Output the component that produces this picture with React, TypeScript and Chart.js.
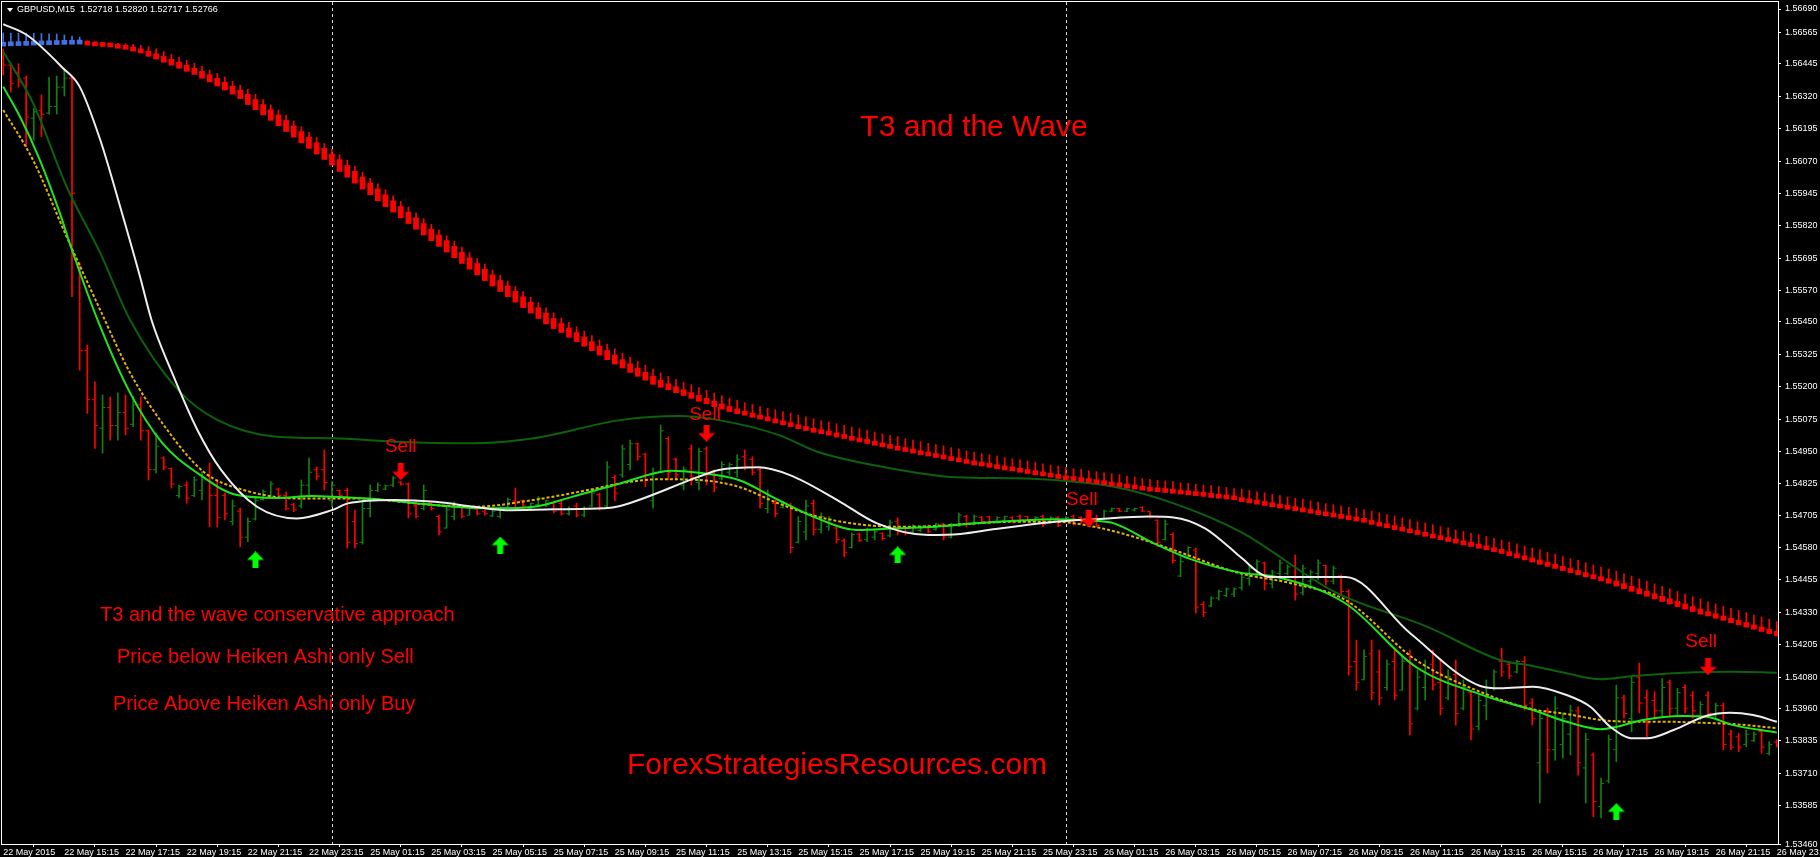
import React, { useEffect, useRef } from "react";
import { Chart, registerables } from "chart.js";

Chart.register(...registerables);

// Prices are stored in pips above BASE (price = BASE + value * PIP)
const BASE = 1.53;
const PIP = 0.0001;
const toPrice = (p: number) => BASE + p * PIP;

// M15 bars: index 0 = 22 May 13:15
const separatorIndex = [43, 139];
const timeTickIndex = [0, 8, 16, 24, 32, 40, 48, 56, 64, 72, 80, 88, 96, 104, 112, 120, 128, 136, 144, 152, 160, 168, 176, 184, 192, 200, 208, 216, 224, 232];
const timeTickLabels = ["22 May 2015", "22 May 15:15", "22 May 17:15", "22 May 19:15", "22 May 21:15", "22 May 23:15", "25 May 01:15", "25 May 03:15", "25 May 05:15", "25 May 07:15", "25 May 09:15", "25 May 11:15", "25 May 13:15", "25 May 15:15", "25 May 17:15", "25 May 19:15", "25 May 21:15", "25 May 23:15", "26 May 01:15", "26 May 03:15", "26 May 05:15", "26 May 07:15", "26 May 09:15", "26 May 11:15", "26 May 13:15", "26 May 15:15", "26 May 17:15", "26 May 19:15", "26 May 21:15", "26 May 23:15"];
const priceTicks = [1.56565, 1.56445, 1.5632, 1.56195, 1.5607, 1.55945, 1.5582, 1.55695, 1.5557, 1.5545, 1.55325, 1.552, 1.55075, 1.5495, 1.54825, 1.54705, 1.5458, 1.54455, 1.5433, 1.54205, 1.5408, 1.5396, 1.53835, 1.5371, 1.53585];
const priceTopLabel = "1.56690";
const priceBottomLabel = "1.53460";
const Y_MIN = 1.534366;
const Y_MAX = 1.566833;
const X_MIN = -0.157;
const X_MAX = 232.15;

const barOpen = [
  347.5, 344.0, 341.0, 339.0, 323.5, 326.4, 325.5, 328.0, 335.5, 339.0,
  266.0, 234.0, 215.0, 204.0, 212.0, 205.0, 210.0, 205.5, 213.0, 203.0,
  188.0, 192.5, 188.5, 178.0, 182.0, 178.0, 180.0, 186.0, 178.0, 178.0,
  168.0, 172.0, 162.0, 169.0, 176.5, 178.0, 180.5, 178.0, 174.5, 174.0,
  182.0, 188.0, 188.0, 176.0, 180.0, 180.0, 168.0, 160.0, 173.0, 180.0,
  180.5, 182.0, 183.2, 182.5, 174.0, 173.0, 175.0, 170.0, 165.5, 170.0,
  173.5, 170.5, 172.8, 172.0, 170.2, 170.0, 173.5, 176.0, 176.0, 173.0,
  174.5, 174.5, 175.0, 175.0, 171.0, 174.0, 170.5, 174.0, 178.5, 174.0,
  185.0, 186.0, 190.0, 198.0, 194.0, 176.0, 187.0, 200.0, 192.0, 182.0,
  196.0, 183.0, 196.0, 187.0, 184.5, 187.0, 187.0, 193.0, 192.0, 188.0,
  173.0, 175.0, 173.5, 174.0, 160.0, 164.0, 175.0, 165.0, 166.0, 165.5,
  160.5, 158.0, 163.2, 161.0, 162.0, 163.5, 162.5, 168.0, 165.5, 164.0,
  164.5, 166.0, 165.0, 167.0, 162.0, 167.0, 170.0, 167.0, 169.6, 169.8,
  168.0, 168.5, 169.5, 170.0, 169.9, 168.2, 170.0, 167.5, 169.5, 168.0,
  170.0, 169.5, 170.0, 169.0, 169.0, 172.0, 173.0, 172.0, 172.5, 173.5,
  171.8, 168.5, 161.0, 163.0, 147.0, 155.0, 157.0, 136.0, 135.5, 138.5,
  139.5, 140.0, 142.5, 146.0, 149.5, 152.0, 144.0, 148.0, 148.0, 151.0,
  140.5, 145.0, 148.0, 151.0, 145.0, 147.0, 141.0, 114.0, 107.0, 117.0,
  110.0, 104.0, 114.0, 103.0, 114.0, 96.0, 104.0, 113.0, 106.0, 100.0,
  109.0, 96.0, 102.0, 89.0, 97.0, 104.0, 114.0, 113.0, 110.0, 114.0,
  98.0, 75.0, 95.0, 80.0, 82.0, 86.0, 95.0, 73.0, 78.0, 58.0,
  68.0, 80.0, 100.0, 92.0, 108.0, 100.0, 99.0, 95.0, 106.0, 96.0,
  104.0, 101.0, 93.0, 101.0, 93.0, 97.0, 86.0, 85.0, 82.0, 83.5,
  87.0, 78.5, 83.0,
];
const barHigh = [
  350.2, 344.8, 344.5, 339.8, 327.3, 332.5, 339.3, 339.8, 342.4, 339.5,
  267.7, 236.1, 221.9, 216.8, 216.1, 217.6, 216.8, 216.1, 216.1, 203.3,
  202.1, 193.0, 188.6, 182.1, 183.4, 185.3, 187.2, 190.6, 184.0, 179.0,
  176.3, 173.2, 169.4, 177.6, 180.2, 183.4, 180.9, 179.5, 175.1, 184.0,
  192.5, 189.1, 195.6, 183.4, 180.2, 180.9, 172.4, 175.6, 182.1, 182.9,
  182.1, 185.3, 183.4, 182.9, 176.3, 182.1, 175.1, 170.5, 173.7, 175.6,
  173.7, 173.7, 173.2, 172.4, 172.4, 173.7, 177.1, 180.9, 176.3, 175.1,
  177.6, 176.3, 175.1, 176.3, 173.7, 175.1, 173.7, 180.2, 179.0, 191.1,
  186.0, 197.5, 199.4, 198.3, 194.4, 188.6, 205.2, 200.7, 192.5, 189.1,
  197.5, 196.3, 196.8, 187.9, 191.1, 190.6, 193.7, 195.6, 193.0, 189.1,
  180.2, 176.3, 175.6, 175.1, 169.9, 176.3, 176.3, 171.3, 169.9, 166.0,
  161.3, 163.6, 163.6, 165.5, 164.7, 163.6, 168.6, 169.4, 166.0, 166.7,
  166.0, 166.7, 167.4, 167.4, 167.4, 171.3, 170.5, 170.5, 169.9, 170.1,
  169.9, 170.1, 169.9, 170.5, 170.1, 169.9, 170.5, 169.9, 169.9, 169.9,
  170.5, 169.9, 170.5, 170.5, 172.4, 173.2, 173.1, 173.2, 173.2, 173.7,
  171.8, 168.6, 168.6, 163.6, 154.4, 158.3, 157.8, 137.1, 139.0, 141.6,
  142.4, 142.4, 147.4, 151.2, 153.2, 152.4, 149.3, 153.2, 151.2, 155.1,
  151.2, 149.3, 153.2, 151.2, 150.8, 147.4, 141.6, 122.3, 118.5, 122.3,
  118.5, 114.6, 118.5, 116.5, 118.5, 110.8, 114.6, 118.5, 114.6, 110.8,
  114.6, 106.9, 103.0, 101.1, 106.9, 110.8, 119.1, 114.0, 114.6, 115.9,
  99.8, 94.7, 96.1, 100.5, 94.2, 97.2, 96.6, 86.4, 78.7, 69.1,
  85.7, 104.9, 101.1, 108.2, 113.4, 103.0, 102.4, 107.5, 106.9, 103.7,
  105.0, 102.4, 98.5, 102.4, 98.0, 98.0, 87.6, 86.4, 87.6, 86.9,
  87.6, 83.1, 83.8,
];
const barLow = [
  340.2, 333.7, 335.5, 312.5, 315.1, 316.4, 325.1, 325.1, 332.1, 254.7,
  226.4, 209.7, 196.2, 194.4, 199.4, 199.4, 201.4, 204.6, 199.4, 184.0,
  186.7, 187.9, 180.9, 177.1, 175.1, 177.6, 176.3, 166.0, 166.0, 168.6,
  166.7, 158.3, 160.2, 168.6, 176.3, 177.6, 177.1, 172.4, 171.8, 173.2,
  177.6, 184.0, 180.2, 173.7, 177.6, 157.8, 157.8, 159.3, 169.8, 179.5,
  180.2, 181.4, 182.1, 169.4, 169.4, 172.4, 172.4, 162.8, 165.5, 168.6,
  169.4, 170.5, 170.5, 170.5, 169.8, 169.4, 173.2, 172.4, 173.2, 172.4,
  173.7, 173.7, 171.3, 170.5, 170.5, 169.8, 169.8, 173.7, 172.4, 173.7,
  176.0, 185.0, 187.9, 191.7, 181.4, 173.2, 186.7, 184.0, 184.0, 180.2,
  182.1, 180.2, 182.1, 179.5, 184.0, 185.9, 185.3, 187.9, 185.9, 173.2,
  171.3, 169.8, 173.2, 155.9, 159.7, 160.9, 162.8, 163.6, 164.7, 159.7,
  154.4, 157.8, 160.2, 160.2, 160.9, 160.9, 162.1, 162.8, 162.8, 163.6,
  164.1, 163.6, 164.7, 160.9, 161.6, 166.0, 166.0, 166.7, 167.4, 167.5,
  167.4, 167.9, 167.5, 167.9, 168.3, 167.9, 166.0, 167.4, 166.0, 167.9,
  166.7, 167.4, 166.0, 166.0, 168.6, 171.8, 171.8, 171.8, 172.1, 171.8,
  169.4, 158.3, 160.9, 151.9, 146.7, 154.4, 132.7, 131.3, 135.2, 137.7,
  139.0, 139.0, 141.6, 143.5, 146.2, 141.6, 142.4, 145.5, 147.4, 137.7,
  139.7, 143.5, 145.5, 143.5, 143.9, 139.7, 108.8, 103.0, 106.9, 99.2,
  97.3, 103.0, 99.2, 103.0, 85.7, 95.3, 99.2, 103.0, 93.4, 99.2,
  89.5, 95.3, 83.8, 87.6, 91.5, 103.0, 108.2, 107.5, 109.6, 95.3,
  89.5, 59.5, 71.0, 76.0, 76.8, 78.0, 70.2, 59.5, 54.2, 53.7,
  67.2, 75.4, 92.2, 86.9, 94.2, 85.0, 92.2, 92.7, 92.7, 93.4,
  94.2, 92.2, 91.5, 92.7, 92.2, 79.9, 79.9, 79.2, 81.2, 83.1,
  78.7, 78.0, 81.2,
];
const barClose = [
  344.0, 337.0, 337.5, 324.0, 326.0, 325.0, 328.0, 335.5, 339.0, 294.6,
  234.0, 215.0, 205.0, 212.0, 205.0, 210.0, 204.0, 213.0, 203.0, 188.0,
  197.0, 189.0, 182.5, 181.5, 177.0, 184.0, 185.0, 178.0, 169.5, 171.0,
  174.0, 162.0, 168.0, 176.0, 179.5, 182.5, 178.0, 173.0, 172.5, 182.0,
  187.0, 185.5, 183.0, 182.0, 178.0, 160.0, 159.5, 173.0, 180.0, 182.0,
  181.8, 184.8, 182.4, 171.0, 170.0, 180.0, 173.0, 164.0, 172.5, 174.5,
  170.0, 173.0, 171.0, 171.0, 172.0, 173.5, 176.5, 173.0, 174.0, 175.0,
  177.0, 176.0, 172.0, 171.0, 173.0, 170.5, 173.0, 179.0, 173.5, 189.0,
  179.0, 196.0, 198.0, 193.0, 184.0, 187.0, 203.0, 187.0, 186.0, 188.0,
  185.0, 195.0, 186.0, 181.0, 190.0, 190.0, 192.0, 189.0, 187.0, 175.0,
  178.0, 171.0, 175.0, 158.0, 168.0, 174.0, 165.0, 170.0, 169.0, 161.0,
  156.0, 163.0, 160.8, 165.0, 164.0, 161.5, 167.5, 164.0, 163.5, 166.0,
  165.8, 164.0, 167.0, 162.0, 167.0, 170.5, 167.0, 170.0, 168.0, 168.0,
  169.5, 170.0, 168.0, 168.5, 168.6, 169.6, 167.0, 169.5, 166.5, 169.5,
  167.0, 168.0, 167.0, 166.5, 172.0, 173.0, 172.0, 173.0, 173.0, 172.0,
  169.8, 160.0, 167.0, 153.0, 152.5, 158.0, 135.0, 133.0, 138.5, 141.0,
  142.0, 142.0, 146.5, 150.0, 152.5, 144.0, 148.5, 152.0, 150.5, 140.0,
  150.0, 148.5, 152.0, 145.0, 150.0, 141.0, 112.0, 106.0, 116.0, 102.0,
  100.0, 113.0, 101.0, 114.0, 90.0, 108.0, 112.0, 105.0, 96.0, 108.0,
  94.0, 104.0, 88.0, 99.0, 104.0, 110.0, 110.0, 108.5, 114.0, 97.0,
  92.0, 92.0, 80.0, 96.0, 92.0, 95.0, 75.0, 84.0, 60.0, 67.0,
  84.0, 100.0, 94.0, 106.0, 98.0, 90.0, 95.0, 104.0, 96.0, 102.0,
  96.0, 95.0, 97.5, 94.0, 97.0, 82.0, 81.0, 81.0, 86.0, 86.0,
  81.0, 82.0, 82.0,
];

// Smoothed Heiken Ashi candles (close per bar, first open, upper shadow length)
const haOpenStart = 351.3;
const haClose = [
  351.6, 351.6, 351.7, 351.8, 351.9, 351.9, 352.0, 352.1, 352.1, 352.2, 352.2,
  351.7, 351.4, 351.2, 351.0, 350.5, 350.1, 349.4, 348.7,
  347.4, 346.3, 345.1, 344.0, 342.8, 341.6, 340.4,
  338.9, 337.5, 335.9, 334.4, 332.8, 331.1,
  328.8, 326.8, 324.8, 322.7, 320.6,
  318.4, 316.2, 314.0, 311.9, 309.7, 307.6, 305.4,
  303.0, 300.8, 298.5, 296.2, 294.0, 291.7, 289.4,
  287.3, 285.1, 282.9, 280.7, 278.5, 276.3, 274.1,
  271.9, 269.7, 267.5, 265.3, 263.1, 260.9, 258.8,
  256.7, 254.7, 252.6, 250.5, 248.4, 246.3, 244.2, 242.4,
  240.9, 239.1, 237.4, 235.6, 233.9, 232.2, 230.4, 228.7,
  227.2, 225.5, 224.0, 222.5, 220.9,
  219.8, 218.8, 217.7, 216.6, 215.5, 214.4, 213.4, 212.3, 211.4, 210.4, 209.6,
  209.0, 208.2, 207.5, 206.8, 206.0, 205.3, 204.6, 203.8, 203.1, 202.4,
  201.9, 201.3, 200.6, 200.0, 199.3, 198.7, 198.1, 197.4, 196.8, 196.2, 195.5,
  195.0, 194.4, 193.8, 193.3, 192.7, 192.1, 191.5, 191.0, 190.4, 189.8,
  189.4, 188.9, 188.4, 187.9, 187.5, 187.0, 186.5, 186.0, 185.6, 185.1, 184.6, 184.1,
  183.8, 183.4, 183.0, 182.6, 182.2, 181.7, 181.4, 180.9, 180.5, 180.1, 179.7,
  179.5, 179.2, 178.9, 178.6, 178.3, 178.0, 177.7, 177.3, 177.0, 176.7, 176.4,
  175.7, 175.2, 174.7, 174.2, 173.7, 173.2, 172.7, 172.2, 171.7, 171.2, 170.7, 170.2, 169.7, 169.2, 168.7, 168.2, 167.7,
  166.9, 166.2, 165.6, 164.9, 164.3, 163.6, 163.0, 162.3, 161.6, 161.0, 160.3, 159.7, 159.0, 158.4, 157.7, 157.1, 156.4, 155.7,
  154.8, 154.0, 153.2, 152.4, 151.5, 150.7, 149.9, 149.1, 148.3, 147.5, 146.7, 145.9, 145.1, 144.2,
  143.1, 142.1, 141.1, 140.1, 139.2, 138.2, 137.2, 136.2, 135.2, 134.2, 133.3, 132.3,
  131.6, 130.7, 129.9, 129.0, 128.2, 127.3, 126.5, 125.6, 124.8, 123.9,
];
const haWick = [
  4.8, 4.7, 4.6, 4.5, 4.4, 4.3, 4.1, 3.9, 3.5, 3.0, 2.6,
  1.2, 1.0, 0.9, 0.9,
  1.2, 1.4, 1.5, 1.7, 1.8, 1.9, 1.9, 2.0, 1.9, 1.9,
  1.9, 2.0, 1.9, 1.9, 2.0, 1.9, 1.9, 1.9, 2.0, 1.9,
  1.9, 1.9, 2.0, 1.9, 1.9, 1.9, 2.0, 1.9, 1.9, 1.9,
  2.0, 1.9, 1.9, 1.9, 2.0, 1.9, 1.9, 1.9, 2.0, 1.9,
  1.9, 1.9, 2.0, 1.9, 1.9, 1.9, 2.0, 1.9, 1.9, 1.9,
  2.0, 1.9, 1.9, 2.0, 1.9, 2.0, 2.0, 2.1, 2.1, 2.2,
  2.2, 2.3, 2.3, 2.4, 2.4, 2.5, 2.5, 2.6, 2.6, 2.7, 2.7,
  2.8, 2.8, 2.9, 2.9, 3.0, 3.0, 3.1, 3.1, 3.2, 3.2, 3.3, 3.3, 3.4, 3.4, 3.5,
  3.6, 3.6, 3.7, 3.7, 3.8, 3.8, 3.8, 3.9, 3.8, 3.8,
  3.8, 3.9, 3.8, 3.8, 3.7, 3.8, 3.9, 3.8, 3.8, 3.8,
  3.8, 3.8, 3.9, 3.8, 3.8, 3.7, 3.8, 3.8, 3.9, 3.8,
  3.8, 3.8, 3.8, 3.9, 3.8, 3.8, 3.7, 3.8, 3.8, 3.8,
  3.9, 3.8, 3.8, 3.8, 3.8, 3.9, 3.8, 3.8, 3.7, 3.8,
  3.8, 3.8, 3.9, 3.8, 3.8, 3.8, 3.8, 3.9, 3.8, 3.8,
  3.7, 3.8, 3.8, 3.8, 3.9, 3.8, 3.8, 3.8, 3.8, 3.9,
  3.8, 3.8, 3.7, 3.8, 3.8, 3.8, 3.9, 3.8, 3.8, 3.8,
  3.8, 3.9, 3.8, 3.8, 3.7, 3.8, 3.8, 3.8, 3.9, 3.8,
  3.8, 3.8, 3.8, 3.9, 3.8, 3.8, 3.7, 3.8, 3.8, 3.8,
  3.9, 3.8, 3.8, 3.8, 3.8, 3.9, 3.8, 3.8, 3.7, 3.8,
  3.8, 3.8, 3.9, 3.8, 3.8, 3.8, 3.8, 3.9, 3.8, 3.8,
  3.8, 3.9, 3.8, 3.8, 3.8, 3.8, 3.9, 3.8, 3.8, 3.8,
  3.9, 3.8,
];

// Indicator lines: bar index / value in pips
const whiteX = [0, 3.1, 7.8, 10.0, 12.7, 15.3, 17.9, 19.4, 22.1, 25.4, 28.5, 33.2, 38.4, 43.0, 45.1, 51.2, 56.5, 61.6, 65.8, 71.9, 78.7, 80.7, 91.0, 93.6, 98.8, 102.9, 109.1, 114.3, 121.0, 125.2, 129.8, 137.6, 142.7, 150.0, 153.1, 157.2, 160.3, 161.8, 165.7, 175.6, 184.0, 193.2, 195.8, 200.1, 204.5, 207.6, 210.2, 213.2, 215.0, 218.5, 222.8, 225.9, 228.9, 232];
const whiteY = [359.8, 355.6, 342.9, 335.7, 315.1, 289.4, 262.4, 245.7, 225.3, 203.3, 187.9, 173.7, 169.2, 172.4, 175.0, 176.3, 175.6, 173.7, 172.4, 172.7, 173.1, 174.0, 185.3, 187.9, 188.9, 185.9, 176.3, 167.3, 162.8, 163.2, 165.1, 167.9, 168.9, 169.9, 169.6, 165.4, 158.3, 154.4, 146.6, 146.6, 125.0, 104.6, 103.7, 104.3, 101.1, 96.6, 88.9, 84.4, 84.4, 87.6, 93.1, 94.3, 93.4, 90.8];
const greenX = [0, 2.2, 4.8, 7.4, 9.0, 12.5, 16.6, 20.8, 25.4, 30.6, 35.8, 40.4, 43.0, 48.7, 53.9, 59.0, 64.2, 69.4, 74.5, 80.7, 87.4, 91.0, 96.2, 101.4, 106.5, 111.7, 116.9, 122.0, 127.2, 132.3, 137.6, 142.7, 145.3, 150.5, 155.6, 161.8, 166.6, 175.6, 184.8, 193.9, 200.1, 204.5, 208.9, 211.1, 214.5, 219.7, 222.8, 226.3, 232];
const greenY = [335.7, 324.1, 307.4, 287.0, 272.7, 244.6, 217.6, 198.3, 186.7, 178.2, 177.1, 177.8, 177.6, 176.7, 175.1, 173.7, 173.1, 173.7, 177.6, 182.7, 187.6, 186.8, 184.0, 176.3, 169.2, 164.7, 165.4, 166.0, 167.3, 168.3, 168.9, 168.3, 167.3, 159.6, 153.2, 148.3, 146.6, 136.4, 111.9, 100.7, 95.3, 90.8, 87.9, 88.9, 91.5, 93.0, 92.7, 89.5, 86.6];
const yellowX = [0, 3.9, 8.3, 12.5, 16.6, 20.8, 26.2, 31.4, 38.8, 46.1, 56.2, 61.6, 69.3, 77.6, 80.7, 85.8, 91.0, 96.2, 101.4, 106.5, 111.7, 116.9, 122.0, 127.2, 132.3, 137.6, 142.7, 147.9, 153.1, 161.8, 168.3, 175.6, 184.8, 193.9, 200.1, 204.5, 208.9, 213.2, 217.6, 222.0, 226.3, 232];
const yellowY = [326.7, 307.4, 277.8, 250.8, 225.3, 206.0, 187.2, 180.2, 176.9, 176.9, 174.4, 173.7, 176.3, 180.8, 182.7, 184.3, 184.0, 181.4, 175.0, 169.9, 167.0, 166.0, 166.3, 167.3, 167.9, 167.9, 166.0, 162.1, 157.0, 148.0, 144.3, 137.7, 114.6, 101.5, 95.6, 93.8, 91.5, 90.8, 90.8, 90.4, 89.9, 88.3];
const darkGreenX = [0, 3.9, 8.3, 12.7, 16.6, 22.9, 28.0, 35.8, 43.0, 51.2, 61.6, 69.4, 80.7, 88.4, 93.6, 101.4, 106.5, 116.9, 124.6, 132.3, 137.6, 145.3, 153.1, 161.8, 174.2, 186.3, 195.8, 200.1, 204.5, 208.9, 213.2, 219.7, 226.3, 232];
const darkGreenY = [349.2, 329.4, 297.1, 271.5, 245.7, 218.7, 207.2, 200.7, 200.1, 198.8, 198.2, 200.1, 207.1, 208.7, 207.1, 201.4, 194.9, 188.1, 185.1, 184.7, 184.0, 181.4, 175.0, 164.1, 140.8, 127.4, 114.6, 112.3, 109.5, 107.2, 108.4, 109.7, 110.1, 109.7];

// Signals
const buyArrowX = [33, 65, 117, 211];
const buyArrowY = [153.2, 158.9, 155.1, 56.1];
const sellArrowX = [52, 92, 142, 223];
const sellArrowY = [187.2, 202.1, 169.0, 112.0];
const sellTextX = [52.0, 91.8, 141.1, 222.1];
const sellTextY = [196.9, 209.1, 176.3, 121.7];

const FONT = '"Liberation Sans", Arial, sans-serif';
const BAR_UP = "#128012";
const BAR_DOWN = "#FF0000";
const HA_UP = "#4470E0";
const HA_DOWN = "#FF0000";

// plot frame inside the 1820x857 canvas
const AREA = { left: 2, top: 2, right: 1778, bottom: 844 };
const CANVAS_W = 1820;
const CANVAS_H = 857;

function makeArrow(color: string, up: boolean): HTMLCanvasElement {
  const c = document.createElement("canvas");
  c.width = 17;
  c.height = 17;
  const g = c.getContext("2d")!;
  g.fillStyle = color;
  g.beginPath();
  const pts = [
    [8.5, 0], [17, 8.5], [11.5, 8.5], [11.5, 17], [5.5, 17], [5.5, 8.5], [0, 8.5],
  ];
  pts.forEach(([x, y], k) => {
    const yy = up ? y : 17 - y;
    if (k === 0) g.moveTo(x, yy);
    else g.lineTo(x, yy);
  });
  g.closePath();
  g.fill();
  return c;
}

export default function App() {
  const ref = useRef<HTMLCanvasElement>(null);

  useEffect(() => {
    const canvas = ref.current;
    if (!canvas) return;

    const idx = barOpen.map((_, i) => i);
    const barColors = idx.map((i) => (barClose[i] >= barOpen[i] ? BAR_UP : BAR_DOWN));

    const haOpen: number[] = [];
    haClose.forEach((_, i) => {
      haOpen.push(i === 0 ? haOpenStart : (haOpen[i - 1] + haClose[i - 1]) / 2);
    });
    const haColors = idx.map((i) => (haClose[i] >= haOpen[i] ? HA_UP : HA_DOWN));

    const upImg = makeArrow("#00FF00", true);
    const downImg = makeArrow("#FF0000", false);

    const pts = (xs: number[], ys: number[]) => xs.map((x, k) => ({ x, y: toPrice(ys[k]) }));

    const overlay = {
      id: "overlay",
      afterLayout(chart: any) {
        const a = chart.chartArea;
        a.left = AREA.left;
        a.top = AREA.top;
        a.right = AREA.right;
        a.bottom = AREA.bottom;
        a.width = AREA.right - AREA.left;
        a.height = AREA.bottom - AREA.top;
        const sx = chart.scales.x;
        sx.left = AREA.left;
        sx.right = AREA.right;
        sx.width = AREA.right - AREA.left;
        sx.top = AREA.bottom;
        sx.bottom = CANVAS_H;
        sx.height = CANVAS_H - AREA.bottom;
        sx.configure();
        const sy = chart.scales.y;
        sy.top = AREA.top;
        sy.bottom = AREA.bottom;
        sy.height = AREA.bottom - AREA.top;
        sy.left = AREA.right;
        sy.right = CANVAS_W;
        sy.width = CANVAS_W - AREA.right;
        sy.configure();
      },
      beforeDraw(chart: any) {
        const { ctx } = chart;
        ctx.save();
        ctx.fillStyle = "#000000";
        ctx.fillRect(0, 0, chart.width, chart.height);
        ctx.restore();
      },
      beforeDatasetsDraw(chart: any) {
        const { ctx, chartArea: a, scales } = chart;
        ctx.save();
        ctx.strokeStyle = "#D8D8D8";
        ctx.lineWidth = 1;
        ctx.setLineDash([3, 3]);
        separatorIndex.forEach((i) => {
          const x = Math.round(scales.x.getPixelForValue(i)) + 0.5;
          ctx.beginPath();
          ctx.moveTo(x, a.top);
          ctx.lineTo(x, a.bottom);
          ctx.stroke();
        });
        ctx.restore();
      },
      afterDatasetsDraw(chart: any) {
        const { ctx, chartArea: a, scales } = chart;
        ctx.save();
        ctx.fillStyle = "#FF0000";
        ctx.textBaseline = "middle";
        ctx.font = `19px ${FONT}`;
        ctx.textAlign = "center";
        sellTextX.forEach((x, k) => {
          ctx.fillText("Sell", scales.x.getPixelForValue(x), scales.y.getPixelForValue(toPrice(sellTextY[k])));
        });
        ctx.font = `30px ${FONT}`;
        ctx.fillText("T3 and the Wave", a.left + 972, a.top + 126);
        ctx.fillText("ForexStrategiesResources.com", a.left + 835, a.top + 764);
        ctx.textAlign = "left";
        ctx.font = `20px ${FONT}`;
        ctx.fillText("T3 and the wave conservative approach", a.left + 98, a.top + 613);
        ctx.fillText("Price below Heiken Ashi only Sell", a.left + 115, a.top + 655);
        ctx.fillText("Price Above Heiken Ashi only Buy", a.left + 111, a.top + 702);
        ctx.restore();
      },
      afterDraw(chart: any) {
        const { ctx, chartArea: a } = chart;
        ctx.save();
        ctx.strokeStyle = "#FFFFFF";
        ctx.lineWidth = 1;
        ctx.setLineDash([]);
        ctx.strokeRect(a.left - 0.5, a.top - 0.5, a.right - a.left + 1, a.bottom - a.top + 1);
        // header
        ctx.fillStyle = "#FFFFFF";
        ctx.beginPath();
        ctx.moveTo(a.left + 5, a.top + 6);
        ctx.lineTo(a.left + 11, a.top + 6);
        ctx.lineTo(a.left + 8, a.top + 10);
        ctx.closePath();
        ctx.fill();
        ctx.font = `9px ${FONT}`;
        ctx.textBaseline = "middle";
        ctx.textAlign = "left";
        ctx.fillText("GBPUSD,M15  1.52718 1.52820 1.52717 1.52766", a.left + 15, a.top + 8);
        // pinned price labels at top and bottom of the price axis
        ctx.beginPath();
        ctx.moveTo(a.right, a.top + 7.5);
        ctx.lineTo(a.right + 3, a.top + 7.5);
        ctx.moveTo(a.right, a.bottom + 0.5);
        ctx.lineTo(a.right + 3, a.bottom + 0.5);
        ctx.stroke();
        ctx.fillText(priceTopLabel, a.right + 7, a.top + 7);
        ctx.fillText(priceBottomLabel, a.right + 7, a.bottom + 1);
        ctx.restore();
      },
    };

    const config: any = {
      data: {
        datasets: [
          {
            type: "scatter",
            data: pts(buyArrowX, buyArrowY),
            pointStyle: upImg,
            pointRadius: 8,
            order: 0,
          },
          {
            type: "scatter",
            data: pts(sellArrowX, sellArrowY),
            pointStyle: downImg,
            pointRadius: 8,
            order: 0,
          },
          {
            type: "line",
            data: pts(whiteX, whiteY),
            borderColor: "#EDEDED",
            borderWidth: 2,
            pointRadius: 0,
            cubicInterpolationMode: "monotone",
            order: 1,
          },
          {
            type: "line",
            data: pts(greenX, greenY),
            borderColor: "#1EE61E",
            borderWidth: 2,
            pointRadius: 0,
            cubicInterpolationMode: "monotone",
            order: 2,
          },
          {
            type: "line",
            data: pts(yellowX, yellowY),
            borderColor: "#E6B400",
            borderWidth: 2,
            borderDash: [3, 2],
            pointRadius: 0,
            cubicInterpolationMode: "monotone",
            order: 3,
          },
          {
            type: "bar",
            data: idx.map((i) => ({ x: i, y: [toPrice(haOpen[i]), toPrice(haClose[i])] })),
            backgroundColor: haColors,
            barThickness: 5,
            minBarLength: 4,
            grouped: false,
            borderWidth: 0,
            order: 4,
          },
          {
            type: "bar",
            data: idx.map((i) => {
              const top = Math.max(haOpen[i], haClose[i]);
              return { x: i, y: [toPrice(top), toPrice(top + haWick[i])] };
            }),
            backgroundColor: haColors,
            barThickness: 1,
            grouped: false,
            borderWidth: 0,
            order: 5,
          },
          {
            type: "line",
            data: pts(darkGreenX, darkGreenY),
            borderColor: "#0B620B",
            borderWidth: 2,
            pointRadius: 0,
            cubicInterpolationMode: "monotone",
            order: 6,
          },
          {
            type: "scatter",
            data: idx.map((i) => ({ x: i - 0.2, y: toPrice(barOpen[i]) })),
            pointStyle: "line",
            pointRadius: 1.6,
            pointBorderWidth: 1,
            pointBorderColor: barColors,
            pointBackgroundColor: barColors,
            order: 7,
          },
          {
            type: "scatter",
            data: idx.map((i) => ({ x: i + 0.2, y: toPrice(barClose[i]) })),
            pointStyle: "line",
            pointRadius: 1.6,
            pointBorderWidth: 1,
            pointBorderColor: barColors,
            pointBackgroundColor: barColors,
            order: 7,
          },
          {
            type: "bar",
            data: idx.map((i) => ({ x: i, y: [toPrice(barLow[i]), toPrice(barHigh[i])] })),
            backgroundColor: barColors,
            barThickness: 1,
            minBarLength: 1,
            grouped: false,
            borderWidth: 0,
            order: 8,
          },
        ],
      },
      options: {
        animation: false,
        responsive: false,
        maintainAspectRatio: false,
        devicePixelRatio: 1,
        events: [],
        layout: { padding: { left: 2, top: 2, right: 0, bottom: 0 } },
        plugins: { legend: { display: false }, tooltip: { enabled: false } },
        scales: {
          x: {
            type: "linear",
            position: "bottom",
            min: X_MIN,
            max: X_MAX,
            offset: false,
            afterBuildTicks: (s: any) => {
              s.ticks = timeTickIndex.map((v) => ({ value: v }));
            },
            afterFit: (s: any) => {
              s.height = 13;
              s.paddingLeft = 0;
              s.paddingRight = 0;
            },
            ticks: {
              autoSkip: false,
              maxRotation: 0,
              minRotation: 0,
              align: "start",
              padding: 0,
              color: "#FFFFFF",
              font: { family: FONT, size: 9 },
              callback: (_v: any, k: number) => timeTickLabels[k],
            },
            grid: { drawOnChartArea: false, drawTicks: true, tickLength: 3, color: "#FFFFFF" },
            border: { display: true, color: "#FFFFFF" },
          },
          y: {
            type: "linear",
            position: "right",
            min: Y_MIN,
            max: Y_MAX,
            afterBuildTicks: (s: any) => {
              s.ticks = priceTicks.map((v) => ({ value: v }));
            },
            afterFit: (s: any) => {
              s.width = 42;
              s.paddingTop = 0;
              s.paddingBottom = 0;
            },
            ticks: {
              padding: 4,
              color: "#FFFFFF",
              font: { family: FONT, size: 9 },
              callback: (v: any) => Number(v).toFixed(5),
            },
            grid: { drawOnChartArea: false, drawTicks: true, tickLength: 3, color: "#FFFFFF" },
            border: { display: true, color: "#FFFFFF" },
          },
        },
      },
      plugins: [overlay],
    };

    const chart = new Chart(canvas, config);
    return () => chart.destroy();
  }, []);

  return (
    <div style={{ position: "fixed", left: 0, top: 0, width: CANVAS_W, height: CANVAS_H, background: "#000" }}>
      <canvas ref={ref} width={CANVAS_W} height={CANVAS_H} style={{ display: "block", width: CANVAS_W, height: CANVAS_H }} />
    </div>
  );
}
